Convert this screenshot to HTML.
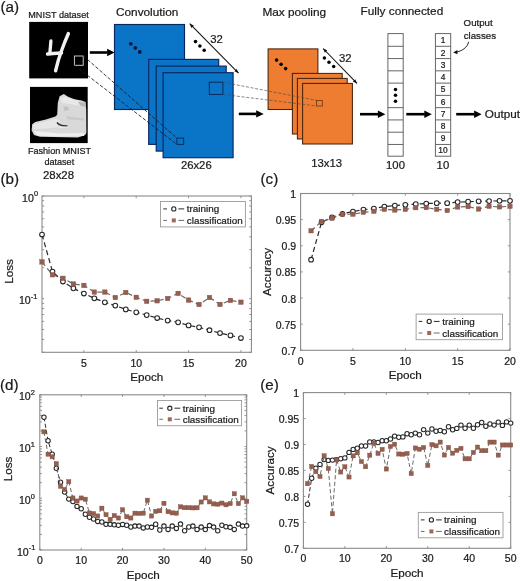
<!DOCTYPE html>
<html><head><meta charset="utf-8"><title>CNN figure</title>
<style>
html,body{margin:0;padding:0;background:#fff;}
body{width:520px;height:581px;overflow:hidden;}
svg{display:block;font-family:'Liberation Sans', Arial, Helvetica, sans-serif;}
text{stroke:#1a1a1a;stroke-width:0.22px;}
</style></head>
<body>
<svg width="520" height="581" viewBox="0 0 520 581">
<defs><filter id="bl4" x="-20%" y="-20%" width="140%" height="140%"><feGaussianBlur stdDeviation="0.55"/></filter><filter id="bl5" x="-10%" y="-10%" width="120%" height="120%"><feGaussianBlur stdDeviation="0.5"/></filter></defs>
<rect width="520" height="581" fill="#fff"/>
<text x="0.5" y="11.8" font-size="15.2" text-anchor="start" fill="#1a1a1a" >(a)</text>
<text x="58.5" y="17.8" font-size="9.1" text-anchor="middle" fill="#1a1a1a" >MNIST dataset</text>
<rect x="29.2" y="21.9" width="58.8" height="56.5" fill="#000"/>
<g filter="url(#bl4)">
<path d="M50.9 41 L50.4 47 L49.8 53.6" stroke="#f2f2f2" stroke-width="3.3" fill="none" stroke-linecap="round"/>
<path d="M47.6 54 L53 53.6 L61.5 52.9" stroke="#f2f2f2" stroke-width="3.5" fill="none" stroke-linecap="round"/>
<path d="M68.4 33.5 L64.8 42 L61.6 50.5 L58.4 60 L55.6 70.8" stroke="#f2f2f2" stroke-width="3.4" fill="none" stroke-linecap="round" stroke-linejoin="round"/>
</g>
<rect x="74.4" y="56" width="8.8" height="9.3" fill="none" stroke="#d8d8d8" stroke-width="0.9"/>
<rect x="30" y="86.9" width="57.7" height="56.2" fill="#000"/>
<g filter="url(#bl5)">
<path d="M59.6 96.3 L63.8 93.9 L68.5 96.9 L74.5 99.3 L81.6 100.5 L85.6 102 L86.2 110 L86.4 132.7 L85.2 135 L78 137.4 L40 136.8 L34 135 L31.6 130.3 L32.2 124.3 L35.2 122 L45.9 119.6 L55.4 116.6 L57.2 114.8 L57.8 102.9 Z" fill="#d9d9d9"/>
<path d="M33 124.5 L45 121.5 L56 118.5 L60 121 L58 127 L48 128.5 L34 129 Z" fill="#e6e6e6"/>
<path d="M34 131 L60 133.5 L84 133 L84 136 L60 136.5 L37 135.5 Z" fill="#eeeeee"/>
<path d="M60 98 L66 96.5 L72 99 L80 101 L84 104 L80 106 L70 104 L62 103 Z" fill="#e8e8e8"/>
<path d="M78 101.5 L85.5 103 L85.5 107 L80 105.5 Z" fill="#b8b8b8"/>
<path d="M63.5 106.5 L68.5 107 L68.5 110.5 L64 110.5 Z" fill="#c2c2c2"/>
<path d="M66 116 L84 118.5 L84 120.5 L68 119.5 Z" fill="#cacaca"/>
<path d="M57 122.6 C59.5 125.5 63 126.3 67.5 126" stroke="#2a2a2a" stroke-width="1.5" fill="none"/>
<path d="M58.5 127.2 L68 127" stroke="#f2f2f2" stroke-width="1"/>
</g>
<text x="59.5" y="153.8" font-size="9.1" text-anchor="middle" fill="#1a1a1a" >Fashion MNIST</text>
<text x="59.3" y="165.3" font-size="9.1" text-anchor="middle" fill="#1a1a1a" >dataset</text>
<text x="58.5" y="179.2" font-size="11.4" text-anchor="middle" fill="#1a1a1a" >28x28</text>
<path d="M89.8 52.5H107.6" stroke="#000" stroke-width="2.6"/>
<path d="M114.6 52.5L107.1 48.8L107.1 56.2Z" fill="#000"/>
<rect x="114.5" y="24.5" width="70" height="85" fill="#0a75c6" stroke="#0a2660" stroke-width="1.15"/>
<rect x="148.7" y="59.4" width="70" height="85" fill="#0a75c6" stroke="#0a2660" stroke-width="1.15"/>
<rect x="156.2" y="66.1" width="70" height="85" fill="#0a75c6" stroke="#0a2660" stroke-width="1.15"/>
<rect x="163.1" y="72.7" width="70" height="85" fill="#0a75c6" stroke="#0a2660" stroke-width="1.15"/>
<circle cx="130.8" cy="43.8" r="1.85" fill="#061634"/>
<circle cx="135.3" cy="47.8" r="1.85" fill="#061634"/>
<circle cx="139.8" cy="51.9" r="1.85" fill="#061634"/>
<rect x="209.3" y="82.2" width="13.6" height="12.2" fill="none" stroke="#0a2550" stroke-width="0.9"/>
<rect x="176.9" y="138.1" width="6.8" height="6.3" fill="none" stroke="#0a2550" stroke-width="0.9"/>
<path d="M83.4 55.9 L176.9 138.1 M74.4 65.3 L176.9 144.4" stroke="#141a28" stroke-width="0.85" stroke-dasharray="3.6 1.8" fill="none"/>
<text x="116" y="16.3" font-size="11.8" text-anchor="start" fill="#1a1a1a" >Convolution</text>
<line x1="189.7" y1="23.7" x2="238.5" y2="73.1" stroke="#111" stroke-width="1.05"/>
<path d="M189.7 23.7L191.44 27.88L193.86 25.49Z" fill="#111"/>
<path d="M238.5 73.1L236.76 68.92L234.34 71.31Z" fill="#111"/>
<text x="216.5" y="43.1" font-size="11.3" text-anchor="middle" fill="#1a1a1a" >32</text>
<circle cx="195.5" cy="41.6" r="1.8" fill="#000"/>
<circle cx="199.9" cy="46" r="1.8" fill="#000"/>
<circle cx="204.2" cy="50.3" r="1.8" fill="#000"/>
<text x="196.3" y="169.4" font-size="11.3" text-anchor="middle" fill="#1a1a1a" >26x26</text>
<path d="M238.8 113.9H256.7" stroke="#000" stroke-width="2.6"/>
<path d="M263.7 113.9L256.2 110.2L256.2 117.6Z" fill="#000"/>
<rect x="268.1" y="48.9" width="49.8" height="60.6" fill="#ee7d32" stroke="#4a2208" stroke-width="1.05"/>
<rect x="292.4" y="73.4" width="49.8" height="60.6" fill="#ee7d32" stroke="#4a2208" stroke-width="1.05"/>
<rect x="297.4" y="78.4" width="49.8" height="60.6" fill="#ee7d32" stroke="#4a2208" stroke-width="1.05"/>
<rect x="302.6" y="83.4" width="49.8" height="60.6" fill="#ee7d32" stroke="#4a2208" stroke-width="1.05"/>
<circle cx="276.6" cy="60.1" r="1.8" fill="#000"/>
<circle cx="281.1" cy="64.3" r="1.8" fill="#000"/>
<circle cx="285.6" cy="68.6" r="1.8" fill="#000"/>
<rect x="316.5" y="100.4" width="5.8" height="5.6" fill="none" stroke="#6a3510" stroke-width="0.8"/>
<path d="M222.9 82.2 L316.5 100.4 M222.9 94.4 L316.5 106" stroke="#4a4a4a" stroke-width="0.65" stroke-dasharray="3 1.7" fill="none"/>
<text x="262.4" y="15.9" font-size="11.8" text-anchor="start" fill="#1a1a1a" >Max pooling</text>
<circle cx="324.4" cy="58" r="1.75" fill="#000"/>
<circle cx="329" cy="62.2" r="1.75" fill="#000"/>
<circle cx="333.7" cy="66.4" r="1.75" fill="#000"/>
<line x1="323.1" y1="48.5" x2="357" y2="83.4" stroke="#111" stroke-width="1.05"/>
<path d="M323.1 48.5L324.81 52.7L327.25 50.33Z" fill="#111"/>
<path d="M357 83.4L355.29 79.2L352.85 81.57Z" fill="#111"/>
<text x="345.3" y="61.6" font-size="11.3" text-anchor="middle" fill="#1a1a1a" >32</text>
<text x="326.7" y="166.9" font-size="11.3" text-anchor="middle" fill="#1a1a1a" >13x13</text>
<path d="M360 114.2H378.4" stroke="#000" stroke-width="2.6"/>
<path d="M385.4 114.2L377.9 110.5L377.9 117.9Z" fill="#000"/>
<text x="360.6" y="15.4" font-size="11.8" text-anchor="start" fill="#1a1a1a" >Fully connected</text>
<rect x="387.9" y="33.6" width="15.3" height="122.6" fill="#fff" stroke="#5e5e5e" stroke-width="0.95"/>
<path d="M387.9 46.3h15.3M387.9 58.57h15.3M387.9 70.84h15.3M387.9 83.11h15.3M387.9 107.65h15.3M387.9 119.92h15.3M387.9 132.19h15.3M387.9 144.46h15.3" stroke="#5e5e5e" stroke-width="0.95"/>
<circle cx="395.5" cy="89.4" r="1.75" fill="#000"/>
<circle cx="395.5" cy="95.3" r="1.75" fill="#000"/>
<circle cx="395.5" cy="101.3" r="1.75" fill="#000"/>
<rect x="435.4" y="33.6" width="15.3" height="122.6" fill="#fff" stroke="#5e5e5e" stroke-width="0.95"/>
<path d="M435.4 46.3h15.3M435.4 58.57h15.3M435.4 70.84h15.3M435.4 83.11h15.3M435.4 95.38h15.3M435.4 107.65h15.3M435.4 119.92h15.3M435.4 132.19h15.3M435.4 144.46h15.3" stroke="#5e5e5e" stroke-width="0.95"/>
<text x="443" y="43.05" font-size="8.4" text-anchor="middle" fill="#1a1a1a" >1</text>
<text x="443" y="55.53" font-size="8.4" text-anchor="middle" fill="#1a1a1a" >2</text>
<text x="443" y="67.8" font-size="8.4" text-anchor="middle" fill="#1a1a1a" >3</text>
<text x="443" y="80.07" font-size="8.4" text-anchor="middle" fill="#1a1a1a" >4</text>
<text x="443" y="92.34" font-size="8.4" text-anchor="middle" fill="#1a1a1a" >5</text>
<text x="443" y="104.61" font-size="8.4" text-anchor="middle" fill="#1a1a1a" >6</text>
<text x="443" y="116.88" font-size="8.4" text-anchor="middle" fill="#1a1a1a" >7</text>
<text x="443" y="129.16" font-size="8.4" text-anchor="middle" fill="#1a1a1a" >8</text>
<text x="443" y="141.42" font-size="8.4" text-anchor="middle" fill="#1a1a1a" >9</text>
<text x="443" y="153.43" font-size="8.4" text-anchor="middle" fill="#1a1a1a" >10</text>
<text x="395.5" y="169.1" font-size="11.3" text-anchor="middle" fill="#1a1a1a" >100</text>
<text x="442.9" y="169.1" font-size="11.3" text-anchor="middle" fill="#1a1a1a" >10</text>
<path d="M406.3 114.2H424.8" stroke="#000" stroke-width="2.6"/>
<path d="M431.8 114.2L424.3 110.5L424.3 117.9Z" fill="#000"/>
<path d="M456.2 114.2H474.6" stroke="#000" stroke-width="2.6"/>
<path d="M481.6 114.2L474.1 110.5L474.1 117.9Z" fill="#000"/>
<text x="484.8" y="117.7" font-size="11.7" text-anchor="start" fill="#1a1a1a" >Output</text>
<text x="463.6" y="26.1" font-size="9.7" text-anchor="start" fill="#1a1a1a" >Output</text>
<text x="463.7" y="39.2" font-size="9.7" text-anchor="start" fill="#1a1a1a" >classes</text>
<path d="M468.6 41.8 C467.5 47.5 462 51.2 455.5 52.2" stroke="#111" stroke-width="0.9" fill="none"/>
<path d="M453.2 52.4 L457.3 49.9 L457.6 54.3 Z" fill="#111"/>
<path d="M83.88 352.3v-2.2M83.88 196v2.2M136.23 352.3v-2.2M136.23 196v2.2M188.58 352.3v-2.2M188.58 196v2.2M240.93 352.3v-2.2M240.93 196v2.2M42 196h2.2M251.4 196h-2.2M42 298.63h2.2M251.4 298.63h-2.2M42 267.74h2.2M251.4 267.74h-2.2M42 249.67h2.2M251.4 249.67h-2.2M42 236.84h2.2M251.4 236.84h-2.2M42 226.9h2.2M251.4 226.9h-2.2M42 218.77h2.2M251.4 218.77h-2.2M42 211.9h2.2M251.4 211.9h-2.2M42 205.95h2.2M251.4 205.95h-2.2M42 200.7h2.2M251.4 200.7h-2.2M42 352.3h2.2M251.4 352.3h-2.2M42 339.48h2.2M251.4 339.48h-2.2M42 329.53h2.2M251.4 329.53h-2.2M42 321.4h2.2M251.4 321.4h-2.2M42 314.53h2.2M251.4 314.53h-2.2M42 308.58h2.2M251.4 308.58h-2.2M42 303.33h2.2M251.4 303.33h-2.2" stroke="#8a8a8a" stroke-width="0.9" fill="none"/>
<rect x="42" y="196" width="209.4" height="156.3" fill="none" stroke="#8a8a8a" stroke-width="1.1"/>
<polyline points="42,234.5 52.47,271.5 62.94,281.5 73.41,288.3 83.88,293.5 94.35,298.3 104.82,302.3 115.29,305.6 125.76,309.4 136.23,312.3 146.7,315.1 157.17,318 167.64,320.6 178.11,322.3 188.58,325.4 199.05,327.3 209.52,330.2 219.99,333.1 230.46,335.4 240.93,338" fill="none" stroke="#2a2a2a" stroke-width="1.2" stroke-dasharray="5 3.2"/>
<circle cx="42" cy="234.5" r="2.35" fill="#fff" stroke="#262626" stroke-width="1.05"/>
<circle cx="52.47" cy="271.5" r="2.35" fill="#fff" stroke="#262626" stroke-width="1.05"/>
<circle cx="62.94" cy="281.5" r="2.35" fill="#fff" stroke="#262626" stroke-width="1.05"/>
<circle cx="73.41" cy="288.3" r="2.35" fill="#fff" stroke="#262626" stroke-width="1.05"/>
<circle cx="83.88" cy="293.5" r="2.35" fill="#fff" stroke="#262626" stroke-width="1.05"/>
<circle cx="94.35" cy="298.3" r="2.35" fill="#fff" stroke="#262626" stroke-width="1.05"/>
<circle cx="104.82" cy="302.3" r="2.35" fill="#fff" stroke="#262626" stroke-width="1.05"/>
<circle cx="115.29" cy="305.6" r="2.35" fill="#fff" stroke="#262626" stroke-width="1.05"/>
<circle cx="125.76" cy="309.4" r="2.35" fill="#fff" stroke="#262626" stroke-width="1.05"/>
<circle cx="136.23" cy="312.3" r="2.35" fill="#fff" stroke="#262626" stroke-width="1.05"/>
<circle cx="146.7" cy="315.1" r="2.35" fill="#fff" stroke="#262626" stroke-width="1.05"/>
<circle cx="157.17" cy="318" r="2.35" fill="#fff" stroke="#262626" stroke-width="1.05"/>
<circle cx="167.64" cy="320.6" r="2.35" fill="#fff" stroke="#262626" stroke-width="1.05"/>
<circle cx="178.11" cy="322.3" r="2.35" fill="#fff" stroke="#262626" stroke-width="1.05"/>
<circle cx="188.58" cy="325.4" r="2.35" fill="#fff" stroke="#262626" stroke-width="1.05"/>
<circle cx="199.05" cy="327.3" r="2.35" fill="#fff" stroke="#262626" stroke-width="1.05"/>
<circle cx="209.52" cy="330.2" r="2.35" fill="#fff" stroke="#262626" stroke-width="1.05"/>
<circle cx="219.99" cy="333.1" r="2.35" fill="#fff" stroke="#262626" stroke-width="1.05"/>
<circle cx="230.46" cy="335.4" r="2.35" fill="#fff" stroke="#262626" stroke-width="1.05"/>
<circle cx="240.93" cy="338" r="2.35" fill="#fff" stroke="#262626" stroke-width="1.05"/>
<polyline points="42,261.9 52.47,274.8 62.94,278.3 73.41,284 83.88,285.4 94.35,292.1 104.82,292.1 115.29,297.5 125.76,292.5 136.23,297.3 146.7,301.3 157.17,300.8 167.64,298.5 178.11,293.4 188.58,300.1 199.05,304.5 209.52,297.5 219.99,304.4 230.46,300.4 240.93,302.2" fill="none" stroke="#6a6a6a" stroke-width="1.2" stroke-dasharray="5 3.2"/>
<rect x="39.75" y="259.65" width="4.5" height="4.5" fill="#955f4f" stroke="#824f40" stroke-width="0.4"/>
<rect x="50.22" y="272.55" width="4.5" height="4.5" fill="#955f4f" stroke="#824f40" stroke-width="0.4"/>
<rect x="60.69" y="276.05" width="4.5" height="4.5" fill="#955f4f" stroke="#824f40" stroke-width="0.4"/>
<rect x="71.16" y="281.75" width="4.5" height="4.5" fill="#955f4f" stroke="#824f40" stroke-width="0.4"/>
<rect x="81.63" y="283.15" width="4.5" height="4.5" fill="#955f4f" stroke="#824f40" stroke-width="0.4"/>
<rect x="92.1" y="289.85" width="4.5" height="4.5" fill="#955f4f" stroke="#824f40" stroke-width="0.4"/>
<rect x="102.57" y="289.85" width="4.5" height="4.5" fill="#955f4f" stroke="#824f40" stroke-width="0.4"/>
<rect x="113.04" y="295.25" width="4.5" height="4.5" fill="#955f4f" stroke="#824f40" stroke-width="0.4"/>
<rect x="123.51" y="290.25" width="4.5" height="4.5" fill="#955f4f" stroke="#824f40" stroke-width="0.4"/>
<rect x="133.98" y="295.05" width="4.5" height="4.5" fill="#955f4f" stroke="#824f40" stroke-width="0.4"/>
<rect x="144.45" y="299.05" width="4.5" height="4.5" fill="#955f4f" stroke="#824f40" stroke-width="0.4"/>
<rect x="154.92" y="298.55" width="4.5" height="4.5" fill="#955f4f" stroke="#824f40" stroke-width="0.4"/>
<rect x="165.39" y="296.25" width="4.5" height="4.5" fill="#955f4f" stroke="#824f40" stroke-width="0.4"/>
<rect x="175.86" y="291.15" width="4.5" height="4.5" fill="#955f4f" stroke="#824f40" stroke-width="0.4"/>
<rect x="186.33" y="297.85" width="4.5" height="4.5" fill="#955f4f" stroke="#824f40" stroke-width="0.4"/>
<rect x="196.8" y="302.25" width="4.5" height="4.5" fill="#955f4f" stroke="#824f40" stroke-width="0.4"/>
<rect x="207.27" y="295.25" width="4.5" height="4.5" fill="#955f4f" stroke="#824f40" stroke-width="0.4"/>
<rect x="217.74" y="302.15" width="4.5" height="4.5" fill="#955f4f" stroke="#824f40" stroke-width="0.4"/>
<rect x="228.21" y="298.15" width="4.5" height="4.5" fill="#955f4f" stroke="#824f40" stroke-width="0.4"/>
<rect x="238.68" y="299.95" width="4.5" height="4.5" fill="#955f4f" stroke="#824f40" stroke-width="0.4"/>
<text x="83.88" y="366.5" font-size="10.5" text-anchor="middle" fill="#1a1a1a" >5</text>
<text x="136.23" y="366.5" font-size="10.5" text-anchor="middle" fill="#1a1a1a" >10</text>
<text x="188.58" y="366.5" font-size="10.5" text-anchor="middle" fill="#1a1a1a" >15</text>
<text x="240.93" y="366.5" font-size="10.5" text-anchor="middle" fill="#1a1a1a" >20</text>
<text x="38" y="201.6" font-size="10.6" text-anchor="end" fill="#1a1a1a">10<tspan font-size="7.4" dy="-5.2">0</tspan></text>
<text x="37.3" y="304.3" font-size="10.6" text-anchor="end" fill="#1a1a1a">10<tspan font-size="7.4" dy="-5.2">-1</tspan></text>
<text x="146.7" y="380.9" font-size="11.7" text-anchor="middle" fill="#1a1a1a" >Epoch</text>
<text transform="translate(12.8,271.5) rotate(-90)" x="0" y="0" font-size="11.7" text-anchor="middle" fill="#1a1a1a">Loss</text>
<rect x="160.5" y="201.5" width="84.9" height="25.4" fill="#fff" stroke="#9a9a9a" stroke-width="0.9"/>
<path d="M163.3 208.9h3.6M178.4 208.9h5.8" stroke="#2a2a2a" stroke-width="1"/>
<circle cx="173.8" cy="208.9" r="2.1" fill="#fff" stroke="#262626" stroke-width="1.1"/>
<path d="M163.3 220.4h3.6M178.4 220.4h5.8" stroke="#6a6a6a" stroke-width="1"/>
<rect x="171.8" y="218.4" width="4" height="4" fill="#9a6a5a"/>
<text x="186.8" y="212.4" font-size="9.9" text-anchor="start" fill="#1a1a1a" >training</text>
<text x="186.8" y="223.9" font-size="9.9" text-anchor="start" fill="#1a1a1a" >classification</text>
<text x="0.5" y="184.2" font-size="15.2" text-anchor="start" fill="#1a1a1a" >(b)</text>
<path d="M300.6 350.3v-2.2M300.6 193.5v2.2M352.95 350.3v-2.2M352.95 193.5v2.2M405.3 350.3v-2.2M405.3 193.5v2.2M457.65 350.3v-2.2M457.65 193.5v2.2M510 350.3v-2.2M510 193.5v2.2M300.6 350.3h2.2M510 350.3h-2.2M300.6 324.17h2.2M510 324.17h-2.2M300.6 298.03h2.2M510 298.03h-2.2M300.6 271.9h2.2M510 271.9h-2.2M300.6 245.77h2.2M510 245.77h-2.2M300.6 219.63h2.2M510 219.63h-2.2M300.6 193.5h2.2M510 193.5h-2.2" stroke="#8a8a8a" stroke-width="0.9" fill="none"/>
<rect x="300.6" y="193.5" width="209.4" height="156.8" fill="none" stroke="#8a8a8a" stroke-width="1.1"/>
<polyline points="311.07,259.7 321.54,222.3 332.01,217.4 342.48,213.8 352.95,211.5 363.42,209.7 373.89,208.5 384.36,206.5 394.83,205.6 405.3,204.8 415.77,204.2 426.24,203.5 436.71,203.2 447.18,203.2 457.65,202.1 468.12,201.7 478.59,201.3 489.06,201.1 499.53,200.8 510,200.8" fill="none" stroke="#2a2a2a" stroke-width="1.2" stroke-dasharray="5 3.2"/>
<circle cx="311.07" cy="259.7" r="2.35" fill="#fff" stroke="#262626" stroke-width="1.05"/>
<circle cx="321.54" cy="222.3" r="2.35" fill="#fff" stroke="#262626" stroke-width="1.05"/>
<circle cx="332.01" cy="217.4" r="2.35" fill="#fff" stroke="#262626" stroke-width="1.05"/>
<circle cx="342.48" cy="213.8" r="2.35" fill="#fff" stroke="#262626" stroke-width="1.05"/>
<circle cx="352.95" cy="211.5" r="2.35" fill="#fff" stroke="#262626" stroke-width="1.05"/>
<circle cx="363.42" cy="209.7" r="2.35" fill="#fff" stroke="#262626" stroke-width="1.05"/>
<circle cx="373.89" cy="208.5" r="2.35" fill="#fff" stroke="#262626" stroke-width="1.05"/>
<circle cx="384.36" cy="206.5" r="2.35" fill="#fff" stroke="#262626" stroke-width="1.05"/>
<circle cx="394.83" cy="205.6" r="2.35" fill="#fff" stroke="#262626" stroke-width="1.05"/>
<circle cx="405.3" cy="204.8" r="2.35" fill="#fff" stroke="#262626" stroke-width="1.05"/>
<circle cx="415.77" cy="204.2" r="2.35" fill="#fff" stroke="#262626" stroke-width="1.05"/>
<circle cx="426.24" cy="203.5" r="2.35" fill="#fff" stroke="#262626" stroke-width="1.05"/>
<circle cx="436.71" cy="203.2" r="2.35" fill="#fff" stroke="#262626" stroke-width="1.05"/>
<circle cx="447.18" cy="203.2" r="2.35" fill="#fff" stroke="#262626" stroke-width="1.05"/>
<circle cx="457.65" cy="202.1" r="2.35" fill="#fff" stroke="#262626" stroke-width="1.05"/>
<circle cx="468.12" cy="201.7" r="2.35" fill="#fff" stroke="#262626" stroke-width="1.05"/>
<circle cx="478.59" cy="201.3" r="2.35" fill="#fff" stroke="#262626" stroke-width="1.05"/>
<circle cx="489.06" cy="201.1" r="2.35" fill="#fff" stroke="#262626" stroke-width="1.05"/>
<circle cx="499.53" cy="200.8" r="2.35" fill="#fff" stroke="#262626" stroke-width="1.05"/>
<circle cx="510" cy="200.8" r="2.35" fill="#fff" stroke="#262626" stroke-width="1.05"/>
<polyline points="311.07,230.8 321.54,221.5 332.01,218.2 342.48,214.3 352.95,214.2 363.42,212.3 373.89,211.3 384.36,209.4 394.83,210 405.3,209.4 415.77,207.7 426.24,207.6 436.71,209.3 447.18,210.5 457.65,207 468.12,206.6 478.59,209 489.06,206.3 499.53,206.9 510,206.3" fill="none" stroke="#6a6a6a" stroke-width="1.2" stroke-dasharray="5 3.2"/>
<rect x="308.87" y="228.6" width="4.4" height="4.4" fill="#955f4f" stroke="#824f40" stroke-width="0.4"/>
<rect x="319.34" y="219.3" width="4.4" height="4.4" fill="#955f4f" stroke="#824f40" stroke-width="0.4"/>
<rect x="329.81" y="216" width="4.4" height="4.4" fill="#955f4f" stroke="#824f40" stroke-width="0.4"/>
<rect x="340.28" y="212.1" width="4.4" height="4.4" fill="#955f4f" stroke="#824f40" stroke-width="0.4"/>
<rect x="350.75" y="212" width="4.4" height="4.4" fill="#955f4f" stroke="#824f40" stroke-width="0.4"/>
<rect x="361.22" y="210.1" width="4.4" height="4.4" fill="#955f4f" stroke="#824f40" stroke-width="0.4"/>
<rect x="371.69" y="209.1" width="4.4" height="4.4" fill="#955f4f" stroke="#824f40" stroke-width="0.4"/>
<rect x="382.16" y="207.2" width="4.4" height="4.4" fill="#955f4f" stroke="#824f40" stroke-width="0.4"/>
<rect x="392.63" y="207.8" width="4.4" height="4.4" fill="#955f4f" stroke="#824f40" stroke-width="0.4"/>
<rect x="403.1" y="207.2" width="4.4" height="4.4" fill="#955f4f" stroke="#824f40" stroke-width="0.4"/>
<rect x="413.57" y="205.5" width="4.4" height="4.4" fill="#955f4f" stroke="#824f40" stroke-width="0.4"/>
<rect x="424.04" y="205.4" width="4.4" height="4.4" fill="#955f4f" stroke="#824f40" stroke-width="0.4"/>
<rect x="434.51" y="207.1" width="4.4" height="4.4" fill="#955f4f" stroke="#824f40" stroke-width="0.4"/>
<rect x="444.98" y="208.3" width="4.4" height="4.4" fill="#955f4f" stroke="#824f40" stroke-width="0.4"/>
<rect x="455.45" y="204.8" width="4.4" height="4.4" fill="#955f4f" stroke="#824f40" stroke-width="0.4"/>
<rect x="465.92" y="204.4" width="4.4" height="4.4" fill="#955f4f" stroke="#824f40" stroke-width="0.4"/>
<rect x="476.39" y="206.8" width="4.4" height="4.4" fill="#955f4f" stroke="#824f40" stroke-width="0.4"/>
<rect x="486.86" y="204.1" width="4.4" height="4.4" fill="#955f4f" stroke="#824f40" stroke-width="0.4"/>
<rect x="497.33" y="204.7" width="4.4" height="4.4" fill="#955f4f" stroke="#824f40" stroke-width="0.4"/>
<rect x="507.8" y="204.1" width="4.4" height="4.4" fill="#955f4f" stroke="#824f40" stroke-width="0.4"/>
<text x="300.6" y="364.7" font-size="10.5" text-anchor="middle" fill="#1a1a1a" >0</text>
<text x="352.95" y="364.7" font-size="10.5" text-anchor="middle" fill="#1a1a1a" >5</text>
<text x="405.3" y="364.7" font-size="10.5" text-anchor="middle" fill="#1a1a1a" >10</text>
<text x="457.65" y="364.7" font-size="10.5" text-anchor="middle" fill="#1a1a1a" >15</text>
<text x="510" y="364.7" font-size="10.5" text-anchor="middle" fill="#1a1a1a" >20</text>
<text x="296.2" y="354.8" font-size="10.5" text-anchor="end" fill="#1a1a1a" >0.7</text>
<text x="296.2" y="328.67" font-size="10.5" text-anchor="end" fill="#1a1a1a" >0.75</text>
<text x="296.2" y="302.53" font-size="10.5" text-anchor="end" fill="#1a1a1a" >0.8</text>
<text x="296.2" y="276.4" font-size="10.5" text-anchor="end" fill="#1a1a1a" >0.85</text>
<text x="296.2" y="250.27" font-size="10.5" text-anchor="end" fill="#1a1a1a" >0.9</text>
<text x="296.2" y="224.13" font-size="10.5" text-anchor="end" fill="#1a1a1a" >0.95</text>
<text x="296.2" y="198" font-size="10.5" text-anchor="end" fill="#1a1a1a" >1</text>
<text x="405.3" y="378.8" font-size="11.7" text-anchor="middle" fill="#1a1a1a" >Epoch</text>
<text transform="translate(271.2,271.9) rotate(-90)" x="0" y="0" font-size="11.7" text-anchor="middle" fill="#1a1a1a">Accuracy</text>
<rect x="416.1" y="314.1" width="86.4" height="25.6" fill="#fff" stroke="#9a9a9a" stroke-width="0.9"/>
<path d="M418.7 321.4h3.6M433.8 321.4h5.8" stroke="#2a2a2a" stroke-width="1"/>
<circle cx="429.2" cy="321.4" r="2.1" fill="#fff" stroke="#262626" stroke-width="1.1"/>
<path d="M418.7 333h3.6M433.8 333h5.8" stroke="#6a6a6a" stroke-width="1"/>
<rect x="427.2" y="331" width="4" height="4" fill="#9a6a5a"/>
<text x="442.3" y="324.9" font-size="9.9" text-anchor="start" fill="#1a1a1a" >training</text>
<text x="442.3" y="336.5" font-size="9.9" text-anchor="start" fill="#1a1a1a" >classification</text>
<text x="260.5" y="184.3" font-size="15.2" text-anchor="start" fill="#1a1a1a" >(c)</text>
<path d="M39.8 550v-2.2M39.8 394.8v2.2M81.18 550v-2.2M81.18 394.8v2.2M122.56 550v-2.2M122.56 394.8v2.2M163.94 550v-2.2M163.94 394.8v2.2M205.32 550v-2.2M205.32 394.8v2.2M246.7 550v-2.2M246.7 394.8v2.2M39.8 550h2.2M246.7 550h-2.2M39.8 498.27h2.2M246.7 498.27h-2.2M39.8 446.53h2.2M246.7 446.53h-2.2M39.8 394.8h2.2M246.7 394.8h-2.2M39.8 534.43h2.2M246.7 534.43h-2.2M39.8 525.32h2.2M246.7 525.32h-2.2M39.8 518.85h2.2M246.7 518.85h-2.2M39.8 513.84h2.2M246.7 513.84h-2.2M39.8 509.74h2.2M246.7 509.74h-2.2M39.8 506.28h2.2M246.7 506.28h-2.2M39.8 503.28h2.2M246.7 503.28h-2.2M39.8 500.63h2.2M246.7 500.63h-2.2M39.8 482.69h2.2M246.7 482.69h-2.2M39.8 473.58h2.2M246.7 473.58h-2.2M39.8 467.12h2.2M246.7 467.12h-2.2M39.8 462.11h2.2M246.7 462.11h-2.2M39.8 458.01h2.2M246.7 458.01h-2.2M39.8 454.55h2.2M246.7 454.55h-2.2M39.8 451.55h2.2M246.7 451.55h-2.2M39.8 448.9h2.2M246.7 448.9h-2.2M39.8 430.96h2.2M246.7 430.96h-2.2M39.8 421.85h2.2M246.7 421.85h-2.2M39.8 415.39h2.2M246.7 415.39h-2.2M39.8 410.37h2.2M246.7 410.37h-2.2M39.8 406.28h2.2M246.7 406.28h-2.2M39.8 402.81h2.2M246.7 402.81h-2.2M39.8 399.81h2.2M246.7 399.81h-2.2M39.8 397.17h2.2M246.7 397.17h-2.2" stroke="#8a8a8a" stroke-width="0.9" fill="none"/>
<rect x="39.8" y="394.8" width="206.9" height="155.2" fill="none" stroke="#8a8a8a" stroke-width="1.1"/>
<polyline points="43.94,417.2 48.08,440.8 52.21,454.2 56.35,468.3 60.49,482.2 64.63,492 68.77,499.1 72.9,501.6 77.04,506.4 81.18,508.8 85.32,514.2 89.46,517.2 93.59,519 97.73,521.4 101.87,522 106.01,524.3 110.15,524.3 114.28,524.8 118.42,525.2 122.56,524.4 126.7,525.2 130.84,527 134.97,526.1 139.11,526.1 143.25,527.9 147.39,527 151.53,527.3 155.66,524.2 159.8,530 163.94,526.1 168.08,529.4 172.22,526.1 176.35,528.4 180.49,524.1 184.63,530.7 188.77,527 192.91,526.1 197.04,529.4 201.18,527.1 205.32,529.6 209.46,525.6 213.6,527.1 217.73,530.7 221.87,525.2 226.01,526.7 230.15,527.3 234.29,529.4 238.42,524.1 242.56,526.1 246.7,525.8" fill="none" stroke="#2a2a2a" stroke-width="1.0" stroke-dasharray="4.2 2.4"/>
<circle cx="43.94" cy="417.2" r="2.2" fill="#fff" stroke="#262626" stroke-width="1.05"/>
<circle cx="48.08" cy="440.8" r="2.2" fill="#fff" stroke="#262626" stroke-width="1.05"/>
<circle cx="52.21" cy="454.2" r="2.2" fill="#fff" stroke="#262626" stroke-width="1.05"/>
<circle cx="56.35" cy="468.3" r="2.2" fill="#fff" stroke="#262626" stroke-width="1.05"/>
<circle cx="60.49" cy="482.2" r="2.2" fill="#fff" stroke="#262626" stroke-width="1.05"/>
<circle cx="64.63" cy="492" r="2.2" fill="#fff" stroke="#262626" stroke-width="1.05"/>
<circle cx="68.77" cy="499.1" r="2.2" fill="#fff" stroke="#262626" stroke-width="1.05"/>
<circle cx="72.9" cy="501.6" r="2.2" fill="#fff" stroke="#262626" stroke-width="1.05"/>
<circle cx="77.04" cy="506.4" r="2.2" fill="#fff" stroke="#262626" stroke-width="1.05"/>
<circle cx="81.18" cy="508.8" r="2.2" fill="#fff" stroke="#262626" stroke-width="1.05"/>
<circle cx="85.32" cy="514.2" r="2.2" fill="#fff" stroke="#262626" stroke-width="1.05"/>
<circle cx="89.46" cy="517.2" r="2.2" fill="#fff" stroke="#262626" stroke-width="1.05"/>
<circle cx="93.59" cy="519" r="2.2" fill="#fff" stroke="#262626" stroke-width="1.05"/>
<circle cx="97.73" cy="521.4" r="2.2" fill="#fff" stroke="#262626" stroke-width="1.05"/>
<circle cx="101.87" cy="522" r="2.2" fill="#fff" stroke="#262626" stroke-width="1.05"/>
<circle cx="106.01" cy="524.3" r="2.2" fill="#fff" stroke="#262626" stroke-width="1.05"/>
<circle cx="110.15" cy="524.3" r="2.2" fill="#fff" stroke="#262626" stroke-width="1.05"/>
<circle cx="114.28" cy="524.8" r="2.2" fill="#fff" stroke="#262626" stroke-width="1.05"/>
<circle cx="118.42" cy="525.2" r="2.2" fill="#fff" stroke="#262626" stroke-width="1.05"/>
<circle cx="122.56" cy="524.4" r="2.2" fill="#fff" stroke="#262626" stroke-width="1.05"/>
<circle cx="126.7" cy="525.2" r="2.2" fill="#fff" stroke="#262626" stroke-width="1.05"/>
<circle cx="130.84" cy="527" r="2.2" fill="#fff" stroke="#262626" stroke-width="1.05"/>
<circle cx="134.97" cy="526.1" r="2.2" fill="#fff" stroke="#262626" stroke-width="1.05"/>
<circle cx="139.11" cy="526.1" r="2.2" fill="#fff" stroke="#262626" stroke-width="1.05"/>
<circle cx="143.25" cy="527.9" r="2.2" fill="#fff" stroke="#262626" stroke-width="1.05"/>
<circle cx="147.39" cy="527" r="2.2" fill="#fff" stroke="#262626" stroke-width="1.05"/>
<circle cx="151.53" cy="527.3" r="2.2" fill="#fff" stroke="#262626" stroke-width="1.05"/>
<circle cx="155.66" cy="524.2" r="2.2" fill="#fff" stroke="#262626" stroke-width="1.05"/>
<circle cx="159.8" cy="530" r="2.2" fill="#fff" stroke="#262626" stroke-width="1.05"/>
<circle cx="163.94" cy="526.1" r="2.2" fill="#fff" stroke="#262626" stroke-width="1.05"/>
<circle cx="168.08" cy="529.4" r="2.2" fill="#fff" stroke="#262626" stroke-width="1.05"/>
<circle cx="172.22" cy="526.1" r="2.2" fill="#fff" stroke="#262626" stroke-width="1.05"/>
<circle cx="176.35" cy="528.4" r="2.2" fill="#fff" stroke="#262626" stroke-width="1.05"/>
<circle cx="180.49" cy="524.1" r="2.2" fill="#fff" stroke="#262626" stroke-width="1.05"/>
<circle cx="184.63" cy="530.7" r="2.2" fill="#fff" stroke="#262626" stroke-width="1.05"/>
<circle cx="188.77" cy="527" r="2.2" fill="#fff" stroke="#262626" stroke-width="1.05"/>
<circle cx="192.91" cy="526.1" r="2.2" fill="#fff" stroke="#262626" stroke-width="1.05"/>
<circle cx="197.04" cy="529.4" r="2.2" fill="#fff" stroke="#262626" stroke-width="1.05"/>
<circle cx="201.18" cy="527.1" r="2.2" fill="#fff" stroke="#262626" stroke-width="1.05"/>
<circle cx="205.32" cy="529.6" r="2.2" fill="#fff" stroke="#262626" stroke-width="1.05"/>
<circle cx="209.46" cy="525.6" r="2.2" fill="#fff" stroke="#262626" stroke-width="1.05"/>
<circle cx="213.6" cy="527.1" r="2.2" fill="#fff" stroke="#262626" stroke-width="1.05"/>
<circle cx="217.73" cy="530.7" r="2.2" fill="#fff" stroke="#262626" stroke-width="1.05"/>
<circle cx="221.87" cy="525.2" r="2.2" fill="#fff" stroke="#262626" stroke-width="1.05"/>
<circle cx="226.01" cy="526.7" r="2.2" fill="#fff" stroke="#262626" stroke-width="1.05"/>
<circle cx="230.15" cy="527.3" r="2.2" fill="#fff" stroke="#262626" stroke-width="1.05"/>
<circle cx="234.29" cy="529.4" r="2.2" fill="#fff" stroke="#262626" stroke-width="1.05"/>
<circle cx="238.42" cy="524.1" r="2.2" fill="#fff" stroke="#262626" stroke-width="1.05"/>
<circle cx="242.56" cy="526.1" r="2.2" fill="#fff" stroke="#262626" stroke-width="1.05"/>
<circle cx="246.7" cy="525.8" r="2.2" fill="#fff" stroke="#262626" stroke-width="1.05"/>
<polyline points="43.94,431.8 48.08,454.2 52.21,456.8 56.35,463.7 60.49,486.3 64.63,489.5 68.77,481.7 72.9,498 77.04,501 81.18,498 85.32,499.2 89.46,513 93.59,513.6 97.73,516 101.87,508.2 106.01,514.7 110.15,519.4 114.28,515.6 118.42,518 122.56,509.8 126.7,516.7 130.84,518 134.97,513.2 139.11,513.4 143.25,513.2 147.39,500.2 151.53,516 155.66,511.4 159.8,510.8 163.94,503.3 168.08,511.7 172.22,512.9 176.35,513.2 180.49,506.8 184.63,507.7 188.77,507.7 192.91,507.9 197.04,507.8 201.18,502 205.32,497.9 209.46,501.9 213.6,503.9 217.73,504.2 221.87,503.1 226.01,504.8 230.15,503.6 234.29,493.8 238.42,503.6 242.56,497.9 246.7,501.3" fill="none" stroke="#6a6a6a" stroke-width="1.0" stroke-dasharray="4.2 2.4"/>
<rect x="41.84" y="429.7" width="4.2" height="4.2" fill="#955f4f" stroke="#824f40" stroke-width="0.4"/>
<rect x="45.98" y="452.1" width="4.2" height="4.2" fill="#955f4f" stroke="#824f40" stroke-width="0.4"/>
<rect x="50.11" y="454.7" width="4.2" height="4.2" fill="#955f4f" stroke="#824f40" stroke-width="0.4"/>
<rect x="54.25" y="461.6" width="4.2" height="4.2" fill="#955f4f" stroke="#824f40" stroke-width="0.4"/>
<rect x="58.39" y="484.2" width="4.2" height="4.2" fill="#955f4f" stroke="#824f40" stroke-width="0.4"/>
<rect x="62.53" y="487.4" width="4.2" height="4.2" fill="#955f4f" stroke="#824f40" stroke-width="0.4"/>
<rect x="66.67" y="479.6" width="4.2" height="4.2" fill="#955f4f" stroke="#824f40" stroke-width="0.4"/>
<rect x="70.8" y="495.9" width="4.2" height="4.2" fill="#955f4f" stroke="#824f40" stroke-width="0.4"/>
<rect x="74.94" y="498.9" width="4.2" height="4.2" fill="#955f4f" stroke="#824f40" stroke-width="0.4"/>
<rect x="79.08" y="495.9" width="4.2" height="4.2" fill="#955f4f" stroke="#824f40" stroke-width="0.4"/>
<rect x="83.22" y="497.1" width="4.2" height="4.2" fill="#955f4f" stroke="#824f40" stroke-width="0.4"/>
<rect x="87.36" y="510.9" width="4.2" height="4.2" fill="#955f4f" stroke="#824f40" stroke-width="0.4"/>
<rect x="91.49" y="511.5" width="4.2" height="4.2" fill="#955f4f" stroke="#824f40" stroke-width="0.4"/>
<rect x="95.63" y="513.9" width="4.2" height="4.2" fill="#955f4f" stroke="#824f40" stroke-width="0.4"/>
<rect x="99.77" y="506.1" width="4.2" height="4.2" fill="#955f4f" stroke="#824f40" stroke-width="0.4"/>
<rect x="103.91" y="512.6" width="4.2" height="4.2" fill="#955f4f" stroke="#824f40" stroke-width="0.4"/>
<rect x="108.05" y="517.3" width="4.2" height="4.2" fill="#955f4f" stroke="#824f40" stroke-width="0.4"/>
<rect x="112.18" y="513.5" width="4.2" height="4.2" fill="#955f4f" stroke="#824f40" stroke-width="0.4"/>
<rect x="116.32" y="515.9" width="4.2" height="4.2" fill="#955f4f" stroke="#824f40" stroke-width="0.4"/>
<rect x="120.46" y="507.7" width="4.2" height="4.2" fill="#955f4f" stroke="#824f40" stroke-width="0.4"/>
<rect x="124.6" y="514.6" width="4.2" height="4.2" fill="#955f4f" stroke="#824f40" stroke-width="0.4"/>
<rect x="128.74" y="515.9" width="4.2" height="4.2" fill="#955f4f" stroke="#824f40" stroke-width="0.4"/>
<rect x="132.87" y="511.1" width="4.2" height="4.2" fill="#955f4f" stroke="#824f40" stroke-width="0.4"/>
<rect x="137.01" y="511.3" width="4.2" height="4.2" fill="#955f4f" stroke="#824f40" stroke-width="0.4"/>
<rect x="141.15" y="511.1" width="4.2" height="4.2" fill="#955f4f" stroke="#824f40" stroke-width="0.4"/>
<rect x="145.29" y="498.1" width="4.2" height="4.2" fill="#955f4f" stroke="#824f40" stroke-width="0.4"/>
<rect x="149.43" y="513.9" width="4.2" height="4.2" fill="#955f4f" stroke="#824f40" stroke-width="0.4"/>
<rect x="153.56" y="509.3" width="4.2" height="4.2" fill="#955f4f" stroke="#824f40" stroke-width="0.4"/>
<rect x="157.7" y="508.7" width="4.2" height="4.2" fill="#955f4f" stroke="#824f40" stroke-width="0.4"/>
<rect x="161.84" y="501.2" width="4.2" height="4.2" fill="#955f4f" stroke="#824f40" stroke-width="0.4"/>
<rect x="165.98" y="509.6" width="4.2" height="4.2" fill="#955f4f" stroke="#824f40" stroke-width="0.4"/>
<rect x="170.12" y="510.8" width="4.2" height="4.2" fill="#955f4f" stroke="#824f40" stroke-width="0.4"/>
<rect x="174.25" y="511.1" width="4.2" height="4.2" fill="#955f4f" stroke="#824f40" stroke-width="0.4"/>
<rect x="178.39" y="504.7" width="4.2" height="4.2" fill="#955f4f" stroke="#824f40" stroke-width="0.4"/>
<rect x="182.53" y="505.6" width="4.2" height="4.2" fill="#955f4f" stroke="#824f40" stroke-width="0.4"/>
<rect x="186.67" y="505.6" width="4.2" height="4.2" fill="#955f4f" stroke="#824f40" stroke-width="0.4"/>
<rect x="190.81" y="505.8" width="4.2" height="4.2" fill="#955f4f" stroke="#824f40" stroke-width="0.4"/>
<rect x="194.94" y="505.7" width="4.2" height="4.2" fill="#955f4f" stroke="#824f40" stroke-width="0.4"/>
<rect x="199.08" y="499.9" width="4.2" height="4.2" fill="#955f4f" stroke="#824f40" stroke-width="0.4"/>
<rect x="203.22" y="495.8" width="4.2" height="4.2" fill="#955f4f" stroke="#824f40" stroke-width="0.4"/>
<rect x="207.36" y="499.8" width="4.2" height="4.2" fill="#955f4f" stroke="#824f40" stroke-width="0.4"/>
<rect x="211.5" y="501.8" width="4.2" height="4.2" fill="#955f4f" stroke="#824f40" stroke-width="0.4"/>
<rect x="215.63" y="502.1" width="4.2" height="4.2" fill="#955f4f" stroke="#824f40" stroke-width="0.4"/>
<rect x="219.77" y="501" width="4.2" height="4.2" fill="#955f4f" stroke="#824f40" stroke-width="0.4"/>
<rect x="223.91" y="502.7" width="4.2" height="4.2" fill="#955f4f" stroke="#824f40" stroke-width="0.4"/>
<rect x="228.05" y="501.5" width="4.2" height="4.2" fill="#955f4f" stroke="#824f40" stroke-width="0.4"/>
<rect x="232.19" y="491.7" width="4.2" height="4.2" fill="#955f4f" stroke="#824f40" stroke-width="0.4"/>
<rect x="236.32" y="501.5" width="4.2" height="4.2" fill="#955f4f" stroke="#824f40" stroke-width="0.4"/>
<rect x="240.46" y="495.8" width="4.2" height="4.2" fill="#955f4f" stroke="#824f40" stroke-width="0.4"/>
<rect x="244.6" y="499.2" width="4.2" height="4.2" fill="#955f4f" stroke="#824f40" stroke-width="0.4"/>
<text x="39.8" y="564.2" font-size="10.5" text-anchor="middle" fill="#1a1a1a" >0</text>
<text x="81.18" y="564.2" font-size="10.5" text-anchor="middle" fill="#1a1a1a" >10</text>
<text x="122.56" y="564.2" font-size="10.5" text-anchor="middle" fill="#1a1a1a" >20</text>
<text x="163.94" y="564.2" font-size="10.5" text-anchor="middle" fill="#1a1a1a" >30</text>
<text x="205.32" y="564.2" font-size="10.5" text-anchor="middle" fill="#1a1a1a" >40</text>
<text x="246.7" y="564.2" font-size="10.5" text-anchor="middle" fill="#1a1a1a" >50</text>
<text x="34.8" y="400.4" font-size="10.6" text-anchor="end" fill="#1a1a1a">10<tspan font-size="7.4" dy="-5.2">2</tspan></text>
<text x="34.8" y="452.13" font-size="10.6" text-anchor="end" fill="#1a1a1a">10<tspan font-size="7.4" dy="-5.2">1</tspan></text>
<text x="34.8" y="503.87" font-size="10.6" text-anchor="end" fill="#1a1a1a">10<tspan font-size="7.4" dy="-5.2">0</tspan></text>
<text x="35.3" y="555.6" font-size="10.6" text-anchor="end" fill="#1a1a1a">10<tspan font-size="7.4" dy="-5.2">-1</tspan></text>
<text x="143.25" y="578.6" font-size="11.7" text-anchor="middle" fill="#1a1a1a" >Epoch</text>
<text transform="translate(12,469) rotate(-90)" x="0" y="0" font-size="11.7" text-anchor="middle" fill="#1a1a1a">Loss</text>
<rect x="157.5" y="400.5" width="84" height="25.2" fill="#fff" stroke="#9a9a9a" stroke-width="0.9"/>
<path d="M159.3 408.2h3.6M174.4 408.2h5.8" stroke="#2a2a2a" stroke-width="1"/>
<circle cx="169.8" cy="408.2" r="2.1" fill="#fff" stroke="#262626" stroke-width="1.1"/>
<path d="M159.3 419.3h3.6M174.4 419.3h5.8" stroke="#6a6a6a" stroke-width="1"/>
<rect x="167.8" y="417.3" width="4" height="4" fill="#9a6a5a"/>
<text x="182.7" y="411.7" font-size="9.9" text-anchor="start" fill="#1a1a1a" >training</text>
<text x="182.7" y="422.8" font-size="9.9" text-anchor="start" fill="#1a1a1a" >classification</text>
<text x="0" y="390.3" font-size="15.2" text-anchor="start" fill="#1a1a1a" >(d)</text>
<path d="M303.4 548.3v-2.2M303.4 392.6v2.2M344.86 548.3v-2.2M344.86 392.6v2.2M386.32 548.3v-2.2M386.32 392.6v2.2M427.78 548.3v-2.2M427.78 392.6v2.2M469.24 548.3v-2.2M469.24 392.6v2.2M510.7 548.3v-2.2M510.7 392.6v2.2M303.4 548.3h2.2M510.7 548.3h-2.2M303.4 522.35h2.2M510.7 522.35h-2.2M303.4 496.4h2.2M510.7 496.4h-2.2M303.4 470.45h2.2M510.7 470.45h-2.2M303.4 444.5h2.2M510.7 444.5h-2.2M303.4 418.55h2.2M510.7 418.55h-2.2M303.4 392.6h2.2M510.7 392.6h-2.2" stroke="#8a8a8a" stroke-width="0.9" fill="none"/>
<rect x="303.4" y="392.6" width="207.3" height="155.7" fill="none" stroke="#8a8a8a" stroke-width="1.1"/>
<polyline points="307.55,504.3 311.69,478.2 315.84,468.2 319.98,464.4 324.13,459.6 328.28,460.4 332.42,460.1 336.57,459.6 340.71,458.7 344.86,457.9 349.01,452.4 353.15,449.4 357.3,448.3 361.44,446 365.59,446 369.74,441.9 373.88,441.9 378.03,442.5 382.17,440.8 386.32,440.8 390.47,439 394.61,436.1 398.76,437.3 402.9,436.9 407.05,433.7 411.2,434.8 415.34,433.1 419.49,434.8 423.63,429.6 427.78,433.1 431.93,429 436.07,431.3 440.22,430.5 444.36,431.7 448.51,426.7 452.66,429.8 456.8,428.4 460.95,425.1 465.09,428.3 469.24,425.1 473.39,428.3 477.53,424.8 481.68,422.5 485.82,426.3 489.97,424 494.12,425.1 498.26,422.1 502.41,425.4 506.55,421.9 510.7,423.1" fill="none" stroke="#2a2a2a" stroke-width="1.0" stroke-dasharray="4.2 2.4"/>
<circle cx="307.55" cy="504.3" r="2.2" fill="#fff" stroke="#262626" stroke-width="1.05"/>
<circle cx="311.69" cy="478.2" r="2.2" fill="#fff" stroke="#262626" stroke-width="1.05"/>
<circle cx="315.84" cy="468.2" r="2.2" fill="#fff" stroke="#262626" stroke-width="1.05"/>
<circle cx="319.98" cy="464.4" r="2.2" fill="#fff" stroke="#262626" stroke-width="1.05"/>
<circle cx="324.13" cy="459.6" r="2.2" fill="#fff" stroke="#262626" stroke-width="1.05"/>
<circle cx="328.28" cy="460.4" r="2.2" fill="#fff" stroke="#262626" stroke-width="1.05"/>
<circle cx="332.42" cy="460.1" r="2.2" fill="#fff" stroke="#262626" stroke-width="1.05"/>
<circle cx="336.57" cy="459.6" r="2.2" fill="#fff" stroke="#262626" stroke-width="1.05"/>
<circle cx="340.71" cy="458.7" r="2.2" fill="#fff" stroke="#262626" stroke-width="1.05"/>
<circle cx="344.86" cy="457.9" r="2.2" fill="#fff" stroke="#262626" stroke-width="1.05"/>
<circle cx="349.01" cy="452.4" r="2.2" fill="#fff" stroke="#262626" stroke-width="1.05"/>
<circle cx="353.15" cy="449.4" r="2.2" fill="#fff" stroke="#262626" stroke-width="1.05"/>
<circle cx="357.3" cy="448.3" r="2.2" fill="#fff" stroke="#262626" stroke-width="1.05"/>
<circle cx="361.44" cy="446" r="2.2" fill="#fff" stroke="#262626" stroke-width="1.05"/>
<circle cx="365.59" cy="446" r="2.2" fill="#fff" stroke="#262626" stroke-width="1.05"/>
<circle cx="369.74" cy="441.9" r="2.2" fill="#fff" stroke="#262626" stroke-width="1.05"/>
<circle cx="373.88" cy="441.9" r="2.2" fill="#fff" stroke="#262626" stroke-width="1.05"/>
<circle cx="378.03" cy="442.5" r="2.2" fill="#fff" stroke="#262626" stroke-width="1.05"/>
<circle cx="382.17" cy="440.8" r="2.2" fill="#fff" stroke="#262626" stroke-width="1.05"/>
<circle cx="386.32" cy="440.8" r="2.2" fill="#fff" stroke="#262626" stroke-width="1.05"/>
<circle cx="390.47" cy="439" r="2.2" fill="#fff" stroke="#262626" stroke-width="1.05"/>
<circle cx="394.61" cy="436.1" r="2.2" fill="#fff" stroke="#262626" stroke-width="1.05"/>
<circle cx="398.76" cy="437.3" r="2.2" fill="#fff" stroke="#262626" stroke-width="1.05"/>
<circle cx="402.9" cy="436.9" r="2.2" fill="#fff" stroke="#262626" stroke-width="1.05"/>
<circle cx="407.05" cy="433.7" r="2.2" fill="#fff" stroke="#262626" stroke-width="1.05"/>
<circle cx="411.2" cy="434.8" r="2.2" fill="#fff" stroke="#262626" stroke-width="1.05"/>
<circle cx="415.34" cy="433.1" r="2.2" fill="#fff" stroke="#262626" stroke-width="1.05"/>
<circle cx="419.49" cy="434.8" r="2.2" fill="#fff" stroke="#262626" stroke-width="1.05"/>
<circle cx="423.63" cy="429.6" r="2.2" fill="#fff" stroke="#262626" stroke-width="1.05"/>
<circle cx="427.78" cy="433.1" r="2.2" fill="#fff" stroke="#262626" stroke-width="1.05"/>
<circle cx="431.93" cy="429" r="2.2" fill="#fff" stroke="#262626" stroke-width="1.05"/>
<circle cx="436.07" cy="431.3" r="2.2" fill="#fff" stroke="#262626" stroke-width="1.05"/>
<circle cx="440.22" cy="430.5" r="2.2" fill="#fff" stroke="#262626" stroke-width="1.05"/>
<circle cx="444.36" cy="431.7" r="2.2" fill="#fff" stroke="#262626" stroke-width="1.05"/>
<circle cx="448.51" cy="426.7" r="2.2" fill="#fff" stroke="#262626" stroke-width="1.05"/>
<circle cx="452.66" cy="429.8" r="2.2" fill="#fff" stroke="#262626" stroke-width="1.05"/>
<circle cx="456.8" cy="428.4" r="2.2" fill="#fff" stroke="#262626" stroke-width="1.05"/>
<circle cx="460.95" cy="425.1" r="2.2" fill="#fff" stroke="#262626" stroke-width="1.05"/>
<circle cx="465.09" cy="428.3" r="2.2" fill="#fff" stroke="#262626" stroke-width="1.05"/>
<circle cx="469.24" cy="425.1" r="2.2" fill="#fff" stroke="#262626" stroke-width="1.05"/>
<circle cx="473.39" cy="428.3" r="2.2" fill="#fff" stroke="#262626" stroke-width="1.05"/>
<circle cx="477.53" cy="424.8" r="2.2" fill="#fff" stroke="#262626" stroke-width="1.05"/>
<circle cx="481.68" cy="422.5" r="2.2" fill="#fff" stroke="#262626" stroke-width="1.05"/>
<circle cx="485.82" cy="426.3" r="2.2" fill="#fff" stroke="#262626" stroke-width="1.05"/>
<circle cx="489.97" cy="424" r="2.2" fill="#fff" stroke="#262626" stroke-width="1.05"/>
<circle cx="494.12" cy="425.1" r="2.2" fill="#fff" stroke="#262626" stroke-width="1.05"/>
<circle cx="498.26" cy="422.1" r="2.2" fill="#fff" stroke="#262626" stroke-width="1.05"/>
<circle cx="502.41" cy="425.4" r="2.2" fill="#fff" stroke="#262626" stroke-width="1.05"/>
<circle cx="506.55" cy="421.9" r="2.2" fill="#fff" stroke="#262626" stroke-width="1.05"/>
<circle cx="510.7" cy="423.1" r="2.2" fill="#fff" stroke="#262626" stroke-width="1.05"/>
<polyline points="307.55,483.7 311.69,466.5 315.84,471.6 319.98,476.5 324.13,455.8 328.28,468.5 332.42,513.8 336.57,459.9 340.71,472 344.86,466.8 349.01,477 353.15,455.9 357.3,452.8 361.44,461.5 365.59,466.7 369.74,455.2 373.88,443.1 378.03,453.4 382.17,449.4 386.32,469 390.47,446.5 394.61,444.2 398.76,454 402.9,454.2 407.05,453.5 411.2,473.6 415.34,448 419.49,449.2 423.63,447.5 427.78,465.4 431.93,444.6 436.07,445.8 440.22,442.1 444.36,455 448.51,447.5 452.66,453.2 456.8,450.4 460.95,448.4 465.09,458.8 469.24,458.8 473.39,452.5 477.53,447.1 481.68,450.7 485.82,450.7 489.97,442.1 494.12,442.1 498.26,455.1 502.41,445 506.55,445 510.7,445" fill="none" stroke="#6a6a6a" stroke-width="1.0" stroke-dasharray="4.2 2.4"/>
<rect x="305.45" y="481.6" width="4.2" height="4.2" fill="#955f4f" stroke="#824f40" stroke-width="0.4"/>
<rect x="309.59" y="464.4" width="4.2" height="4.2" fill="#955f4f" stroke="#824f40" stroke-width="0.4"/>
<rect x="313.74" y="469.5" width="4.2" height="4.2" fill="#955f4f" stroke="#824f40" stroke-width="0.4"/>
<rect x="317.88" y="474.4" width="4.2" height="4.2" fill="#955f4f" stroke="#824f40" stroke-width="0.4"/>
<rect x="322.03" y="453.7" width="4.2" height="4.2" fill="#955f4f" stroke="#824f40" stroke-width="0.4"/>
<rect x="326.18" y="466.4" width="4.2" height="4.2" fill="#955f4f" stroke="#824f40" stroke-width="0.4"/>
<rect x="330.32" y="511.7" width="4.2" height="4.2" fill="#955f4f" stroke="#824f40" stroke-width="0.4"/>
<rect x="334.47" y="457.8" width="4.2" height="4.2" fill="#955f4f" stroke="#824f40" stroke-width="0.4"/>
<rect x="338.61" y="469.9" width="4.2" height="4.2" fill="#955f4f" stroke="#824f40" stroke-width="0.4"/>
<rect x="342.76" y="464.7" width="4.2" height="4.2" fill="#955f4f" stroke="#824f40" stroke-width="0.4"/>
<rect x="346.91" y="474.9" width="4.2" height="4.2" fill="#955f4f" stroke="#824f40" stroke-width="0.4"/>
<rect x="351.05" y="453.8" width="4.2" height="4.2" fill="#955f4f" stroke="#824f40" stroke-width="0.4"/>
<rect x="355.2" y="450.7" width="4.2" height="4.2" fill="#955f4f" stroke="#824f40" stroke-width="0.4"/>
<rect x="359.34" y="459.4" width="4.2" height="4.2" fill="#955f4f" stroke="#824f40" stroke-width="0.4"/>
<rect x="363.49" y="464.6" width="4.2" height="4.2" fill="#955f4f" stroke="#824f40" stroke-width="0.4"/>
<rect x="367.64" y="453.1" width="4.2" height="4.2" fill="#955f4f" stroke="#824f40" stroke-width="0.4"/>
<rect x="371.78" y="441" width="4.2" height="4.2" fill="#955f4f" stroke="#824f40" stroke-width="0.4"/>
<rect x="375.93" y="451.3" width="4.2" height="4.2" fill="#955f4f" stroke="#824f40" stroke-width="0.4"/>
<rect x="380.07" y="447.3" width="4.2" height="4.2" fill="#955f4f" stroke="#824f40" stroke-width="0.4"/>
<rect x="384.22" y="466.9" width="4.2" height="4.2" fill="#955f4f" stroke="#824f40" stroke-width="0.4"/>
<rect x="388.37" y="444.4" width="4.2" height="4.2" fill="#955f4f" stroke="#824f40" stroke-width="0.4"/>
<rect x="392.51" y="442.1" width="4.2" height="4.2" fill="#955f4f" stroke="#824f40" stroke-width="0.4"/>
<rect x="396.66" y="451.9" width="4.2" height="4.2" fill="#955f4f" stroke="#824f40" stroke-width="0.4"/>
<rect x="400.8" y="452.1" width="4.2" height="4.2" fill="#955f4f" stroke="#824f40" stroke-width="0.4"/>
<rect x="404.95" y="451.4" width="4.2" height="4.2" fill="#955f4f" stroke="#824f40" stroke-width="0.4"/>
<rect x="409.1" y="471.5" width="4.2" height="4.2" fill="#955f4f" stroke="#824f40" stroke-width="0.4"/>
<rect x="413.24" y="445.9" width="4.2" height="4.2" fill="#955f4f" stroke="#824f40" stroke-width="0.4"/>
<rect x="417.39" y="447.1" width="4.2" height="4.2" fill="#955f4f" stroke="#824f40" stroke-width="0.4"/>
<rect x="421.53" y="445.4" width="4.2" height="4.2" fill="#955f4f" stroke="#824f40" stroke-width="0.4"/>
<rect x="425.68" y="463.3" width="4.2" height="4.2" fill="#955f4f" stroke="#824f40" stroke-width="0.4"/>
<rect x="429.83" y="442.5" width="4.2" height="4.2" fill="#955f4f" stroke="#824f40" stroke-width="0.4"/>
<rect x="433.97" y="443.7" width="4.2" height="4.2" fill="#955f4f" stroke="#824f40" stroke-width="0.4"/>
<rect x="438.12" y="440" width="4.2" height="4.2" fill="#955f4f" stroke="#824f40" stroke-width="0.4"/>
<rect x="442.26" y="452.9" width="4.2" height="4.2" fill="#955f4f" stroke="#824f40" stroke-width="0.4"/>
<rect x="446.41" y="445.4" width="4.2" height="4.2" fill="#955f4f" stroke="#824f40" stroke-width="0.4"/>
<rect x="450.56" y="451.1" width="4.2" height="4.2" fill="#955f4f" stroke="#824f40" stroke-width="0.4"/>
<rect x="454.7" y="448.3" width="4.2" height="4.2" fill="#955f4f" stroke="#824f40" stroke-width="0.4"/>
<rect x="458.85" y="446.3" width="4.2" height="4.2" fill="#955f4f" stroke="#824f40" stroke-width="0.4"/>
<rect x="462.99" y="456.7" width="4.2" height="4.2" fill="#955f4f" stroke="#824f40" stroke-width="0.4"/>
<rect x="467.14" y="456.7" width="4.2" height="4.2" fill="#955f4f" stroke="#824f40" stroke-width="0.4"/>
<rect x="471.29" y="450.4" width="4.2" height="4.2" fill="#955f4f" stroke="#824f40" stroke-width="0.4"/>
<rect x="475.43" y="445" width="4.2" height="4.2" fill="#955f4f" stroke="#824f40" stroke-width="0.4"/>
<rect x="479.58" y="448.6" width="4.2" height="4.2" fill="#955f4f" stroke="#824f40" stroke-width="0.4"/>
<rect x="483.72" y="448.6" width="4.2" height="4.2" fill="#955f4f" stroke="#824f40" stroke-width="0.4"/>
<rect x="487.87" y="440" width="4.2" height="4.2" fill="#955f4f" stroke="#824f40" stroke-width="0.4"/>
<rect x="492.02" y="440" width="4.2" height="4.2" fill="#955f4f" stroke="#824f40" stroke-width="0.4"/>
<rect x="496.16" y="453" width="4.2" height="4.2" fill="#955f4f" stroke="#824f40" stroke-width="0.4"/>
<rect x="500.31" y="442.9" width="4.2" height="4.2" fill="#955f4f" stroke="#824f40" stroke-width="0.4"/>
<rect x="504.45" y="442.9" width="4.2" height="4.2" fill="#955f4f" stroke="#824f40" stroke-width="0.4"/>
<rect x="508.6" y="442.9" width="4.2" height="4.2" fill="#955f4f" stroke="#824f40" stroke-width="0.4"/>
<text x="303.4" y="562.4" font-size="10.5" text-anchor="middle" fill="#1a1a1a" >0</text>
<text x="344.86" y="562.4" font-size="10.5" text-anchor="middle" fill="#1a1a1a" >10</text>
<text x="386.32" y="562.4" font-size="10.5" text-anchor="middle" fill="#1a1a1a" >20</text>
<text x="427.78" y="562.4" font-size="10.5" text-anchor="middle" fill="#1a1a1a" >30</text>
<text x="469.24" y="562.4" font-size="10.5" text-anchor="middle" fill="#1a1a1a" >40</text>
<text x="510.7" y="562.4" font-size="10.5" text-anchor="middle" fill="#1a1a1a" >50</text>
<text x="299.2" y="552.8" font-size="10.5" text-anchor="end" fill="#1a1a1a" >0.7</text>
<text x="299.2" y="526.85" font-size="10.5" text-anchor="end" fill="#1a1a1a" >0.75</text>
<text x="299.2" y="500.9" font-size="10.5" text-anchor="end" fill="#1a1a1a" >0.8</text>
<text x="299.2" y="474.95" font-size="10.5" text-anchor="end" fill="#1a1a1a" >0.85</text>
<text x="299.2" y="449" font-size="10.5" text-anchor="end" fill="#1a1a1a" >0.9</text>
<text x="299.2" y="423.05" font-size="10.5" text-anchor="end" fill="#1a1a1a" >0.95</text>
<text x="299.2" y="397.1" font-size="10.5" text-anchor="end" fill="#1a1a1a" >1</text>
<text x="407" y="577.1" font-size="11.7" text-anchor="middle" fill="#1a1a1a" >Epoch</text>
<text transform="translate(274.3,470.45) rotate(-90)" x="0" y="0" font-size="11.7" text-anchor="middle" fill="#1a1a1a">Accuracy</text>
<rect x="418.3" y="512.4" width="84.7" height="25.4" fill="#fff" stroke="#9a9a9a" stroke-width="0.9"/>
<path d="M420.9 519.9h3.6M436 519.9h5.8" stroke="#2a2a2a" stroke-width="1"/>
<circle cx="431.4" cy="519.9" r="2.1" fill="#fff" stroke="#262626" stroke-width="1.1"/>
<path d="M420.9 531.4h3.6M436 531.4h5.8" stroke="#6a6a6a" stroke-width="1"/>
<rect x="429.4" y="529.4" width="4" height="4" fill="#9a6a5a"/>
<text x="444.1" y="523.4" font-size="9.9" text-anchor="start" fill="#1a1a1a" >training</text>
<text x="444.1" y="534.9" font-size="9.9" text-anchor="start" fill="#1a1a1a" >classification</text>
<text x="260.3" y="390" font-size="15.2" text-anchor="start" fill="#1a1a1a" >(e)</text>
</svg>
</body></html>
